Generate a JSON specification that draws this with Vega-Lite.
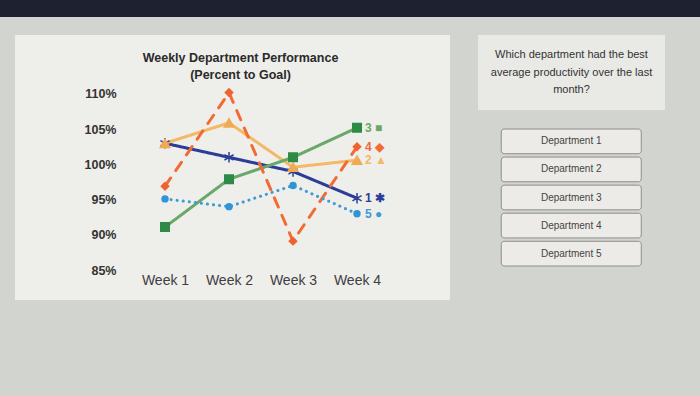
{
  "$schema": "https://vega.github.io/schema/vega-lite/v6.json",
  "background": "#d2d4cf",
  "padding": {"left": 0, "top": 0, "right": 0, "bottom": 96},
  "config": {"view": {"stroke": null}, "font": "Liberation Sans"},
  "datasets": {
    "perf": [
      {"dept": "Department 1", "week": 1, "value": 103, "tag": "1 ✱"},
      {"dept": "Department 1", "week": 2, "value": 101, "tag": "1 ✱"},
      {"dept": "Department 1", "week": 3, "value": 99, "tag": "1 ✱"},
      {"dept": "Department 1", "week": 4, "value": 95.2, "tag": "1 ✱"},
      {"dept": "Department 2", "week": 1, "value": 103, "tag": "2 ▲"},
      {"dept": "Department 2", "week": 2, "value": 105.9, "tag": "2 ▲"},
      {"dept": "Department 2", "week": 3, "value": 99.6, "tag": "2 ▲"},
      {"dept": "Department 2", "week": 4, "value": 100.6, "tag": "2 ▲"},
      {"dept": "Department 3", "week": 1, "value": 91.1, "tag": "3 ■"},
      {"dept": "Department 3", "week": 2, "value": 97.9, "tag": "3 ■"},
      {"dept": "Department 3", "week": 3, "value": 101, "tag": "3 ■"},
      {"dept": "Department 3", "week": 4, "value": 105.2, "tag": "3 ■"},
      {"dept": "Department 4", "week": 1, "value": 96.9, "tag": "4 ◆"},
      {"dept": "Department 4", "week": 2, "value": 110.2, "tag": "4 ◆"},
      {"dept": "Department 4", "week": 3, "value": 89.1, "tag": "4 ◆"},
      {"dept": "Department 4", "week": 4, "value": 102.5, "tag": "4 ◆"},
      {"dept": "Department 5", "week": 1, "value": 95.1, "tag": "5 ●"},
      {"dept": "Department 5", "week": 2, "value": 94, "tag": "5 ●"},
      {"dept": "Department 5", "week": 3, "value": 97, "tag": "5 ●"},
      {"dept": "Department 5", "week": 4, "value": 93, "tag": "5 ●"}
    ],
    "answers": [
      {"option": "Department 1"},
      {"option": "Department 2"},
      {"option": "Department 3"},
      {"option": "Department 4"},
      {"option": "Department 5"}
    ],
    "question": [
      {"question": "Which department had the best\naverage productivity over the last\nmonth?"}
    ],
    "blank": [{}]
  },
  "spacing": 18,
  "vconcat": [
    {
      "data": {"name": "blank"},
      "width": 700,
      "height": 17,
      "mark": {"type": "rect", "color": "#1e2130"},
      "encoding": {}
    },
    {
      "spacing": 28,
      "hconcat": [
        {
          "spacing": 14,
          "hconcat": [
            {
              "data": {"name": "blank"},
              "width": 1,
              "height": 1,
              "mark": {"type": "rect", "opacity": 0},
              "encoding": {}
            },
            {
              "width": 435,
              "height": 265,
              "view": {"fill": "#eeeeea", "stroke": null},
              "data": {"name": "perf"},
              "title": {
                "text": ["Weekly Department Performance", "(Percent to Goal)"],
                "anchor": "middle",
                "frame": "group",
                "offset": -46,
                "dx": 8,
                "fontSize": 12.5,
                "fontWeight": "bold",
                "color": "#2a2a2a",
                "lineHeight": 17,
                "font": "Liberation Sans"
              },
              "encoding": {
                "x": {
                  "field": "week",
                  "type": "quantitative",
                  "scale": {"domain": [-1.344, 5.453], "nice": false, "zero": false},
                  "axis": {
                    "values": [1, 2, 3, 4],
                    "labelExpr": "'Week ' + datum.value",
                    "orient": "bottom",
                    "offset": -29,
                    "labelPadding": 2,
                    "domain": false,
                    "ticks": false,
                    "grid": false,
                    "title": null,
                    "labelFontSize": 14,
                    "labelColor": "#404040",
                    "labelFlush": false
                  }
                },
                "y": {
                  "field": "value",
                  "type": "quantitative",
                  "scale": {"domain": [80.74, 118.38], "nice": false, "zero": false},
                  "axis": {
                    "values": [85, 90, 95, 100, 105, 110],
                    "labelExpr": "datum.value + '%'",
                    "offset": -106,
                    "labelPadding": 5,
                    "domain": false,
                    "ticks": false,
                    "grid": false,
                    "title": null,
                    "labelFontSize": 12.5,
                    "labelFontWeight": "bold",
                    "labelColor": "#333333",
                    "labelFlush": false
                  }
                }
              },
              "layer": [
                {
                  "mark": {"type": "line", "strokeWidth": 3, "strokeCap": "round"},
                  "encoding": {
                    "color": {
                      "field": "dept", "type": "nominal",
                      "scale": {"domain": ["Department 1", "Department 2", "Department 3", "Department 4", "Department 5"],
                                "range": ["#2b3d98", "#f3b966", "#6aa86a", "#f26b35", "#3f9ad5"]},
                      "legend": null
                    },
                    "strokeDash": {
                      "field": "dept", "type": "nominal",
                      "scale": {"domain": ["Department 1", "Department 2", "Department 3", "Department 4", "Department 5"],
                                "range": [[1, 0], [1, 0], [1, 0], [10, 9], [0.1, 6]]},
                      "legend": null
                    }
                  }
                },
                {
                  "mark": {"type": "point", "filled": true, "opacity": 1, "strokeWidth": 1.5},
                  "encoding": {
                    "fill": {
                      "field": "dept", "type": "nominal",
                      "scale": {"domain": ["Department 1", "Department 2", "Department 3", "Department 4", "Department 5"],
                                "range": ["#2c3e99", "#f0aa55", "#2e8b46", "#f0622e", "#2f95d8"]},
                      "legend": null
                    },
                    "stroke": {
                      "field": "dept", "type": "nominal",
                      "scale": {"domain": ["Department 1", "Department 2", "Department 3", "Department 4", "Department 5"],
                                "range": ["#2c3e99", "#f0aa55", "#2e8b46", "#f0622e", "#2f95d8"]},
                      "legend": null
                    },
                    "shape": {
                      "field": "dept", "type": "nominal",
                      "scale": {"domain": ["Department 1", "Department 2", "Department 3", "Department 4", "Department 5"],
                                "range": ["M0,-1L0,1M-0.87,-0.5L0.87,0.5M-0.87,0.5L0.87,-0.5", "triangle-up", "square", "diamond", "circle"]},
                      "legend": null
                    },
                    "size": {
                      "field": "dept", "type": "nominal",
                      "scale": {"domain": ["Department 1", "Department 2", "Department 3", "Department 4", "Department 5"],
                                "range": [110, 35, 40, 45, 35]},
                      "legend": null
                    }
                  }
                },
                {
                  "transform": [{"filter": "datum.week == 4"}],
                  "mark": {"type": "text", "align": "left", "baseline": "middle", "dx": 8, "fontSize": 12, "fontWeight": "bold"},
                  "encoding": {
                    "text": {"field": "tag"},
                    "color": {
                      "field": "dept", "type": "nominal",
                      "scale": {"domain": ["Department 1", "Department 2", "Department 3", "Department 4", "Department 5"],
                                "range": ["#2b3d98", "#f3b966", "#6aa86a", "#f26b35", "#3f9ad5"]},
                      "legend": null
                    }
                  }
                }
              ]
            }
          ]
        },
        {
          "spacing": 18,
          "center": true,
          "vconcat": [
            {
              "width": 187,
              "height": 75,
              "view": {"fill": "#e9e9e5", "stroke": null},
              "data": {"name": "question"},
              "mark": {"type": "text", "lineBreak": "\n", "lineHeight": 17.5, "fontSize": 11, "color": "#333333", "align": "center", "baseline": "middle", "dy": -17.5},
              "encoding": {"text": {"field": "question"}}
            },
            {
              "width": 140,
              "height": 137,
              "data": {"name": "answers"},
              "encoding": {
                "y": {"field": "option", "type": "nominal", "sort": null, "scale": {"paddingInner": 0.12, "paddingOuter": 0}, "axis": null}
              },
              "layer": [
                {"mark": {"type": "bar", "fill": "#ecebe7", "stroke": "#8e8e8e", "strokeWidth": 1, "cornerRadius": 3}},
                {"mark": {"type": "text", "fontSize": 10, "color": "#444444"}, "encoding": {"text": {"field": "option"}}}
              ]
            }
          ]
        }
      ]
    }
  ]
}
